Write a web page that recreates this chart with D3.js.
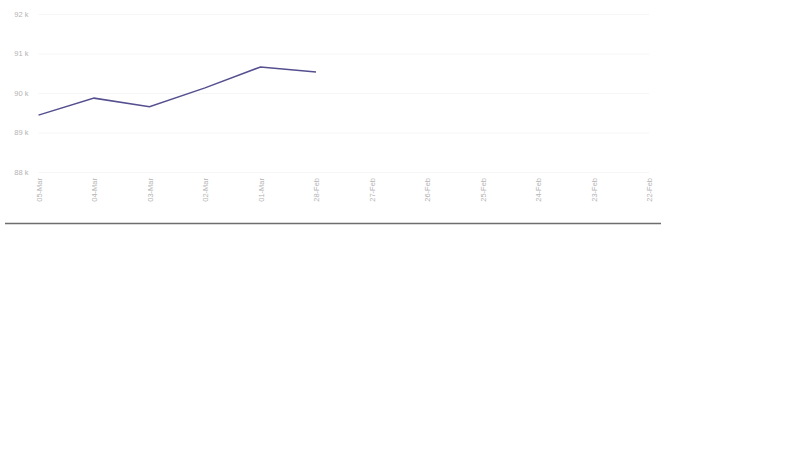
<!DOCTYPE html>
<html>
<head>
<meta charset="utf-8">
<script src="https://cdn.jsdelivr.net/npm/d3@7"></script>
<style>
  body { margin: 0; background: #fff; }
  svg { font-family: "Liberation Sans", Arial, sans-serif; }
</style>
</head>
<body>
<div id="chart"></div>
<script>
// dates run newest -> oldest, left to right
var dates = ["05-Mar", "04-Mar", "03-Mar", "02-Mar", "01-Mar", "28-Feb",
             "27-Feb", "26-Feb", "25-Feb", "24-Feb", "23-Feb", "22-Feb"];
var valueDates = ["05-Mar", "04-Mar", "03-Mar", "02-Mar", "01-Mar", "28-Feb"];
var values = [89440, 89870, 89650, 90130, 90660, 90530];
var yTicks = [88000, 89000, 90000, 91000, 92000];

var width = 800, height = 450;
var margin = {top: 14, left: 38.5, right: 151, bottom: 278};

var svg = d3.select("#chart").append("svg")
    .attr("width", width)
    .attr("height", height);

var x = d3.scalePoint()
    .domain(dates)
    .range([margin.left, width - margin.right]);

var y = d3.scaleLinear()
    .domain([88000, 92000])
    .range([height - margin.bottom, margin.top]);

// horizontal grid + y labels
var yAxis = svg.append("g")
    .attr("transform", "translate(" + margin.left + ",0)")
    .call(d3.axisLeft(y)
        .tickValues(yTicks)
        .tickSize(-(width - margin.right - margin.left))
        .tickPadding(10)
        .tickFormat(function(d) { return (d / 1000) + " k"; }));
yAxis.select(".domain").remove();
yAxis.selectAll(".tick line").attr("stroke", "#f6f6f6");
yAxis.selectAll(".tick text")
    .attr("fill", "#b3b3b3")
    .style("font-size", "7.5px");

// x labels, rotated
var xAxis = svg.append("g")
    .attr("transform", "translate(0," + (height - margin.bottom) + ")")
    .call(d3.axisBottom(x).tickSize(0).tickPadding(6));
xAxis.select(".domain").remove();
xAxis.selectAll(".tick text")
    .attr("fill", "#b3b3b3")
    .style("font-size", "7.5px")
    .attr("text-anchor", "end")
    .attr("dy", "0.35em")
    .attr("transform", "rotate(-90)")
    .attr("x", -6)
    .attr("y", 0);

// the series
var line = d3.line()
    .x(function(d, i) { return x(valueDates[i]); })
    .y(function(d) { return y(d); });

svg.append("path")
    .datum(values)
    .attr("fill", "none")
    .attr("stroke", "#544f8f")
    .attr("stroke-width", 1.5)
    .attr("d", line);

// bottom rule
svg.append("line")
    .attr("x1", 5)
    .attr("x2", 661)
    .attr("y1", 223.5)
    .attr("y2", 223.5)
    .attr("stroke", "#6e6e6e")
    .attr("stroke-width", 1.5);
</script>
</body>
</html>
